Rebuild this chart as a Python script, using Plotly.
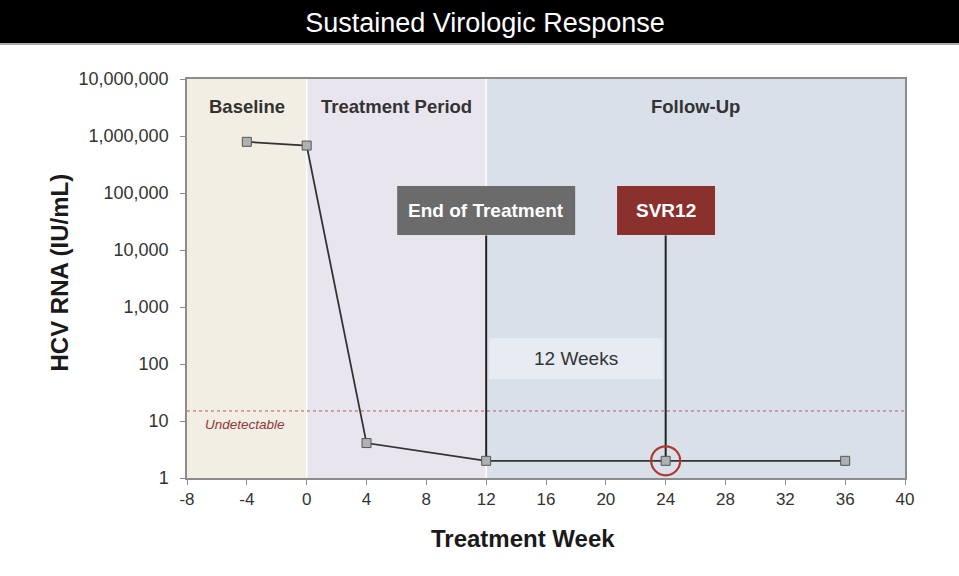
import plotly.graph_objects as go

# Data
weeks = [-4, 0, 4, 12, 24, 36]
hcv_rna = [790000, 680000, 4.1, 2, 2, 2]
y_tickvals = [1, 10, 100, 1000, 10000, 100000, 1000000, 10000000]
y_ticktext = ["1", "10", "100", "1,000", "10,000", "100,000", "1,000,000", "10,000,000"]
x_tickvals = [-8, -4, 0, 4, 8, 12, 16, 20, 24, 28, 32, 36, 40]
x_ticktext = ["-8", "-4", "0", "4", "8", "12", "16", "20", "24", "28", "32", "36", "40"]
regions = [("Baseline", -8, 0, "#F2EEE4"), ("Treatment Period", 0, 12, "#E9E5EE"), ("Follow-Up", 12, 40, "#D9E0EA")]
region_label_x = [-4, 6, 26]
undetectable = 15
eot_week, svr_week = 12, 24
box_bottom_value = 18000

FONT = "Liberation Sans, Arial, sans-serif"

fig = go.Figure()

# Undetectable line
fig.add_trace(go.Scatter(x=[-8, 40], y=[undetectable, undetectable], mode="lines",
                         line=dict(color="#B55A5A", width=1, dash="dot"), hoverinfo="skip", showlegend=False))

# vertical connectors
for wk in (eot_week, svr_week):
    fig.add_trace(go.Scatter(x=[wk, wk], y=[2, box_bottom_value], mode="lines",
                             line=dict(color="#222222", width=2), hoverinfo="skip", showlegend=False))

# data series
fig.add_trace(go.Scatter(x=weeks, y=hcv_rna, mode="lines+markers",
                         line=dict(color="#333333", width=1.8),
                         marker=dict(symbol="square", size=9, color="#AEB0B2",
                                     line=dict(color="#555555", width=1)),
                         showlegend=False))

# SVR12 circle
fig.add_trace(go.Scatter(x=[svr_week], y=[2], mode="markers",
                         marker=dict(symbol="circle-open", size=29, color="#B03A30",
                                     line=dict(width=2.2, color="#B03A30")),
                         hoverinfo="skip", showlegend=False))

shapes = []
annotations = []
for (name, x0, x1, col), lx in zip(regions, region_label_x):
    shapes.append(dict(type="rect", xref="x", yref="paper", x0=x0, x1=x1, y0=0, y1=1,
                       fillcolor=col, line=dict(width=0), layer="below"))
    annotations.append(dict(x=lx, y=0.932, xref="x", yref="paper", yanchor="middle",
                            text="<b>%s</b>" % name, showarrow=False,
                            font=dict(family=FONT, size=18.5, color="#333333")))
# white separators
for xv in (0, 12):
    shapes.append(dict(type="line", xref="x", yref="paper", x0=xv, x1=xv, y0=0, y1=1,
                       line=dict(color="#FFFFFF", width=1.5), layer="below"))

# 12 weeks box
shapes.append(dict(type="rect", xref="x", yref="paper", x0=12.2, x1=23.8, y0=0.248, y1=0.351,
                   fillcolor="#E7EBF2", line=dict(width=0), layer="below"))
annotations.append(dict(x=18, y=0.30, xref="x", yref="paper", yanchor="middle", text="12 Weeks",
                        showarrow=False, font=dict(family=FONT, size=19, color="#333333")))

# EOT and SVR12 boxes
shapes.append(dict(type="rect", xref="x", yref="paper", x0=6.05, x1=17.95, y0=0.609, y1=0.732,
                   fillcolor="#6B6B6B", line=dict(width=0), layer="above"))
annotations.append(dict(x=12, y=0.670, xref="x", yref="paper", yanchor="middle",
                        text="<b>End of Treatment</b>", showarrow=False,
                        font=dict(family=FONT, size=19, color="#FFFFFF")))
shapes.append(dict(type="rect", xref="x", yref="paper", x0=20.75, x1=27.3, y0=0.609, y1=0.732,
                   fillcolor="#8A312E", line=dict(width=0), layer="above"))
annotations.append(dict(x=24, y=0.670, xref="x", yref="paper", yanchor="middle",
                        text="<b>SVR12</b>", showarrow=False,
                        font=dict(family=FONT, size=19, color="#FFFFFF")))

# Undetectable label
annotations.append(dict(x=-6.93, y=0.133, xref="x", yref="paper", yanchor="middle", xanchor="left",
                        text="<i>Undetectable</i>", showarrow=False,
                        font=dict(family=FONT, size=13.5, color="#8B3A3A")))

# Axis titles as annotations (positioned as in reference)
annotations.append(dict(x=(523 - 187) / 718, y=(478 - 538) / 399, xref="paper", yref="paper",
                        xanchor="center", yanchor="middle", showarrow=False,
                        text="<b>Treatment Week</b>", font=dict(family=FONT, size=24, color="#1A1A1A")))
annotations.append(dict(x=(59 - 187) / 718, y=(478 - 272.5) / 399, xref="paper", yref="paper",
                        xanchor="center", yanchor="middle", showarrow=False, textangle=-90,
                        text="<b>HCV RNA (IU/mL)</b>", font=dict(family=FONT, size=24, color="#1A1A1A")))

# Title bar
shapes.append(dict(type="rect", xref="paper", yref="paper", x0=-0.3, x1=1.1, y0=1.090, y1=1.21,
                   fillcolor="#000000", line=dict(width=0), layer="above"))
shapes.append(dict(type="line", xref="paper", yref="paper", x0=-0.3, x1=1.1, y0=1.088, y1=1.088,
                   line=dict(color="#8C8C8C", width=1.5), layer="above"))

fig.update_layout(
    width=959, height=576,
    margin=dict(l=187, r=54, t=79, b=98),
    paper_bgcolor="#FFFFFF", plot_bgcolor="#FFFFFF",
    shapes=shapes, annotations=annotations,
    title=dict(text="Sustained Virologic Response", x=485 / 959, xanchor="center",
               y=1 - 23 / 576, yanchor="middle", yref="container",
               font=dict(family=FONT, size=27, color="#FFFFFF")),
    xaxis=dict(range=[-8, 40], tickvals=x_tickvals, ticktext=x_ticktext, showgrid=False, zeroline=False,
               showline=True, linecolor="#8C8C8C", linewidth=1.5, mirror=True,
               ticks="outside", ticklen=5, tickcolor="#8C8C8C",
               tickfont=dict(family=FONT, size=17, color="#333333")),
    yaxis=dict(type="log", range=[0, 7], tickvals=y_tickvals, ticktext=y_ticktext,
               showgrid=False, zeroline=False,
               showline=True, linecolor="#8C8C8C", linewidth=1.5, mirror=True,
               ticks="outside", ticklen=5, tickcolor="#8C8C8C", ticklabelstandoff=8,
               tickfont=dict(family=FONT, size=18, color="#333333")),
)

fig.write_html("out.html")
